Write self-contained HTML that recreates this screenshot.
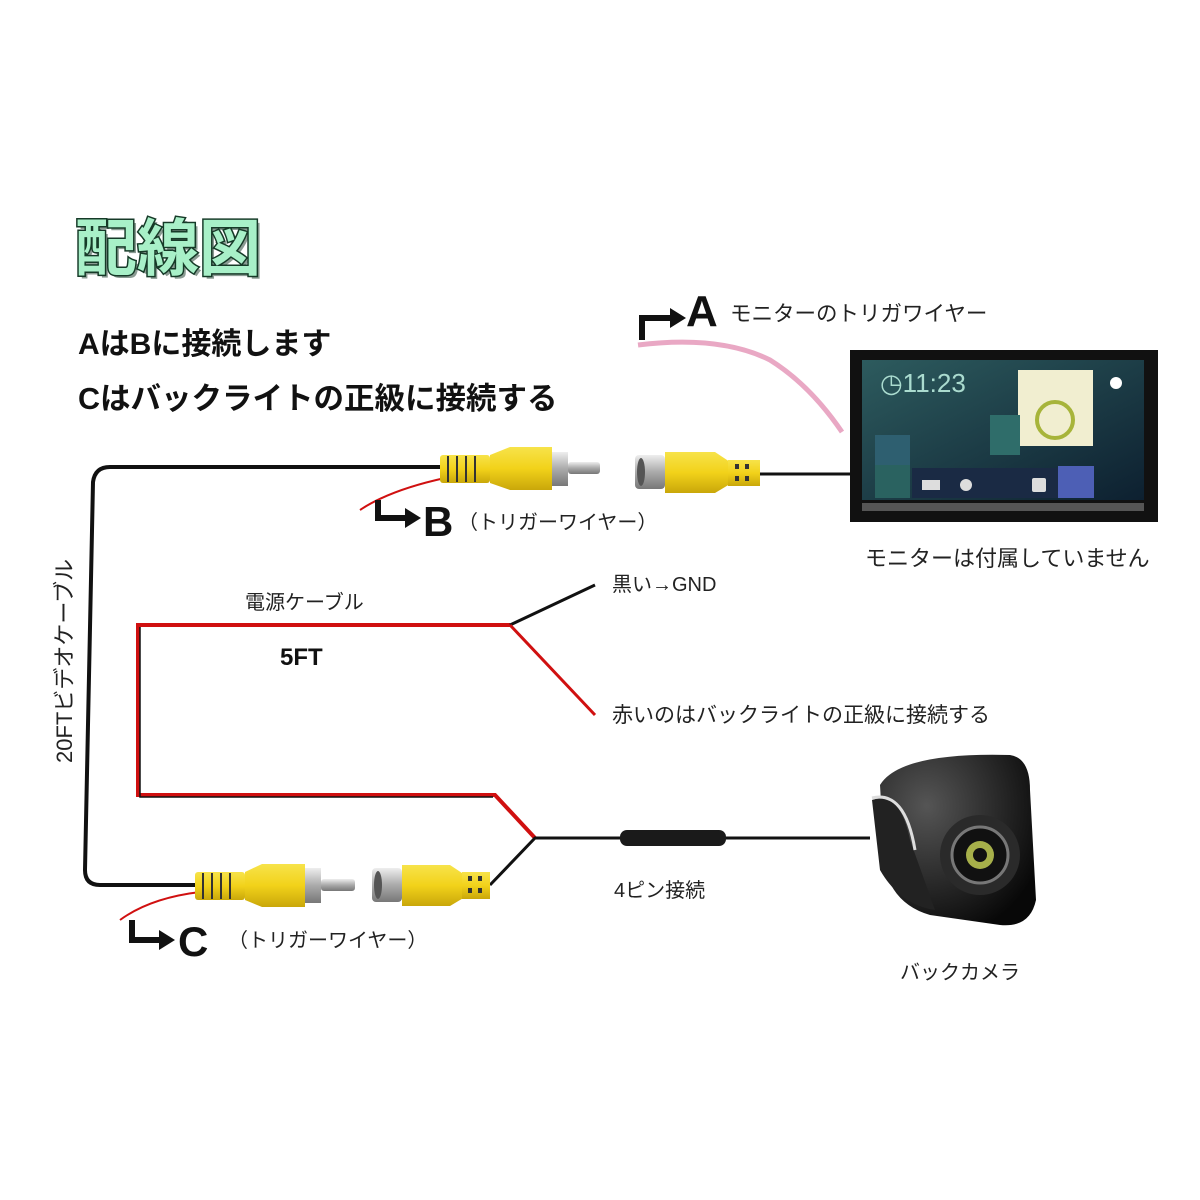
<!DOCTYPE html>
<html><head><meta charset="utf-8"><style>
body{margin:0;background:#fff;width:1200px;height:1200px;overflow:hidden;position:relative;font-family:"Liberation Sans","Noto Sans CJK JP",sans-serif}
.t{position:absolute;white-space:nowrap;color:#222}
</style></head><body>
<svg width="1200" height="1200" style="position:absolute;left:0;top:0" font-family="Liberation Sans, Noto Sans CJK JP, sans-serif">
<defs>
<linearGradient id="y" x1="0" y1="0" x2="0" y2="1"><stop offset="0" stop-color="#f7e34a"/><stop offset="0.5" stop-color="#f2d21a"/><stop offset="1" stop-color="#c9a70a"/></linearGradient>
<linearGradient id="m" x1="0" y1="0" x2="0" y2="1"><stop offset="0" stop-color="#eee"/><stop offset="0.5" stop-color="#aaa"/><stop offset="1" stop-color="#777"/></linearGradient>
<linearGradient id="scr" x1="0" y1="0" x2="1" y2="1"><stop offset="0" stop-color="#2d5b5e"/><stop offset="1" stop-color="#0d2030"/></linearGradient>
<radialGradient id="cam" cx="0.3" cy="0.3" r="0.8"><stop offset="0" stop-color="#555"/><stop offset="1" stop-color="#080808"/></radialGradient>
</defs>
<text x="78" y="273" font-size="62" font-weight="bold" fill="#1a3a2a" opacity="0.5">配線図</text>
<text x="75" y="270" font-size="62" font-weight="bold" fill="#a8f0c8" stroke="#163a28" stroke-width="3" paint-order="stroke">配線図</text>
<path d="M440 467 H110 Q95 467 93 482 L85 870 Q85 885 100 885 H200" fill="none" stroke="#111" stroke-width="4"/>
<path d="M638 345 Q720 335 770 360 Q810 385 842 432" fill="none" stroke="#e9a8c4" stroke-width="5"/>
<path d="M360 510 Q390 490 445 478" fill="none" stroke="#d01010" stroke-width="2"/>
<rect x="440" y="455" width="50" height="28" fill="url(#y)" rx="3"/>
<g stroke="#333" stroke-width="2"><line x1="448" y1="456" x2="448" y2="482"/><line x1="457" y1="456" x2="457" y2="482"/><line x1="466" y1="456" x2="466" y2="482"/><line x1="475" y1="456" x2="475" y2="482"/></g>
<path d="M490 455 L510 447 H552 V490 H510 L490 483Z" fill="url(#y)"/>
<rect x="552" y="452" width="16" height="34" fill="url(#m)"/>
<rect x="568" y="462" width="32" height="12" fill="url(#m)" rx="3"/>
<rect x="635" y="455" width="30" height="34" fill="url(#m)" rx="4"/>
<ellipse cx="641" cy="472" rx="4" ry="14" fill="#555"/>
<path d="M665 452 H715 L730 462 V484 L715 493 H665Z" fill="url(#y)"/>
<rect x="728" y="460" width="32" height="26" fill="url(#y)"/>
<g fill="#333"><rect x="735" y="464" width="4" height="5"/><rect x="745" y="464" width="4" height="5"/><rect x="735" y="476" width="4" height="5"/><rect x="745" y="476" width="4" height="5"/></g>
<line x1="760" y1="474" x2="852" y2="474" stroke="#111" stroke-width="3"/>
<rect x="850" y="350" width="308" height="172" fill="#111"/>
<rect x="862" y="360" width="282" height="140" fill="url(#scr)"/>
<text x="880" y="392" font-size="26" fill="#cfe" opacity="0.8">◷11:23</text>
<rect x="1018" y="370" width="75" height="76" fill="#f1eed0"/>
<circle cx="1055" cy="420" r="18" fill="none" stroke="#a7b43a" stroke-width="4"/>
<circle cx="1116" cy="383" r="6" fill="#fff"/>
<rect x="990" y="415" width="30" height="40" fill="#2f6d6a"/>
<rect x="875" y="435" width="35" height="30" fill="#2e5f70"/>
<rect x="875" y="465" width="35" height="33" fill="#2a6260"/>
<rect x="912" y="468" width="158" height="30" fill="#1a2a44"/>
<rect x="1058" y="466" width="36" height="32" fill="#4d5fb5"/>
<g fill="#ddd"><circle cx="966" cy="485" r="6"/><rect x="1032" y="478" width="14" height="14" rx="2"/><rect x="922" y="480" width="18" height="10"/></g>
<rect x="862" y="503" width="282" height="8" fill="#555"/>
<path d="M642 340 V318 H672" fill="none" stroke="#111" stroke-width="6"/><path d="M670 308 L686 318 L670 328Z" fill="#111"/>
<text x="686" y="326" font-size="44" font-weight="bold" fill="#111">A</text>
<path d="M378 500 V518 H406" fill="none" stroke="#111" stroke-width="6"/><path d="M405 508 L421 518 L405 528Z" fill="#111"/>
<text x="423" y="536" font-size="42" font-weight="bold" fill="#111">B</text>
<path d="M510 625 H138 V795 H495 L535 838" fill="none" stroke="#d01010" stroke-width="4"/>
<path d="M140 627 V797 H493" fill="none" stroke="#111" stroke-width="1.5"/>
<path d="M510 625 L595 585" fill="none" stroke="#111" stroke-width="3"/>
<path d="M510 625 L595 715" fill="none" stroke="#d01010" stroke-width="3"/>
<path d="M490 885 L535 838 H870" fill="none" stroke="#111" stroke-width="3"/>
<rect x="620" y="830" width="106" height="16" rx="7" fill="#1a1a1a"/>
<path d="M120 920 Q150 898 200 892" fill="none" stroke="#d01010" stroke-width="2"/>
<rect x="195" y="872" width="50" height="28" fill="url(#y)" rx="3"/>
<g stroke="#333" stroke-width="2"><line x1="203" y1="873" x2="203" y2="899"/><line x1="212" y1="873" x2="212" y2="899"/><line x1="221" y1="873" x2="221" y2="899"/><line x1="230" y1="873" x2="230" y2="899"/></g>
<path d="M245 872 L262 864 H305 V907 H262 L245 900Z" fill="url(#y)"/>
<rect x="305" y="868" width="16" height="35" fill="url(#m)"/>
<rect x="321" y="879" width="34" height="12" fill="url(#m)" rx="3"/>
<rect x="372" y="868" width="30" height="34" fill="url(#m)" rx="4"/>
<ellipse cx="378" cy="885" rx="4" ry="14" fill="#555"/>
<path d="M402 865 H450 L465 875 V897 L450 906 H402Z" fill="url(#y)"/>
<rect x="462" y="872" width="28" height="27" fill="url(#y)"/>
<g fill="#333"><rect x="468" y="876" width="4" height="5"/><rect x="478" y="876" width="4" height="5"/><rect x="468" y="888" width="4" height="5"/><rect x="478" y="888" width="4" height="5"/></g>
<path d="M132 920 V940 H160" fill="none" stroke="#111" stroke-width="6"/><path d="M159 930 L175 940 L159 950Z" fill="#111"/>
<text x="178" y="956" font-size="42" font-weight="bold" fill="#111">C</text>
<path d="M880 785 Q900 752 1010 755 Q1030 758 1030 790 L1036 900 Q1030 928 1000 925 L930 915 Q895 905 885 870 Z" fill="url(#cam)"/>
<path d="M872 800 Q900 790 910 840 L935 910 Q900 905 880 870 Z" fill="#222"/>
<path d="M872 798 Q905 790 915 850" fill="none" stroke="#ddd" stroke-width="3"/>
<circle cx="980" cy="855" r="40" fill="#2a2a2a"/>
<circle cx="980" cy="855" r="28" fill="#111" stroke="#777" stroke-width="3"/>
<circle cx="980" cy="855" r="14" fill="#a7b04a"/>
<circle cx="980" cy="855" r="7" fill="#111"/>
</svg>
<div class="t" style="left:78px;top:319px;font-size:30px;font-weight:bold;color:#111">AはBに接続します</div>
<div class="t" style="left:78px;top:374px;font-size:30.5px;font-weight:bold;color:#111">Cはバックライトの正級に接続する</div>
<div class="t" style="left:730px;top:297px;font-size:21.5px">モニターのトリガワイヤー</div>
<div class="t" style="left:458px;top:506px;font-size:20px">（トリガーワイヤー）</div>
<div class="t" style="left:865px;top:541px;font-size:22px">モニターは付属していません</div>
<div class="t" style="left:245px;top:586px;font-size:20px">電源ケーブル</div>
<div class="t" style="left:280px;top:644px;font-size:24px;font-weight:bold;color:#111">5FT</div>
<div class="t" style="left:612px;top:568px;font-size:20px">黒い→GND</div>
<div class="t" style="left:612px;top:699px;font-size:21px">赤いのはバックライトの正級に接続する</div>
<div class="t" style="left:614px;top:874px;font-size:20px">4ピン接続</div>
<div class="t" style="left:228px;top:924px;font-size:20px">（トリガーワイヤー）</div>
<div class="t" style="left:900px;top:956px;font-size:20px">バックカメラ</div>
<div class="t" style="left:-82px;top:645px;font-size:22px;transform:rotate(-90deg);width:290px;text-align:center">20FTビデオケーブル</div>
</body></html>
